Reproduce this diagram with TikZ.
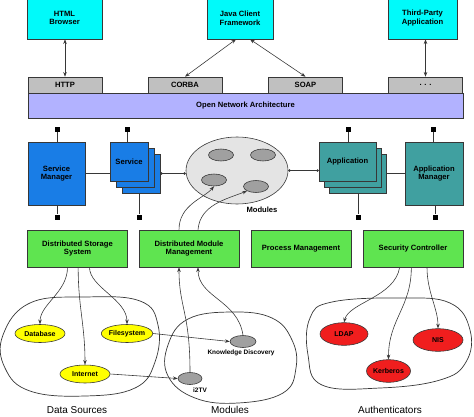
\documentclass[tikz,border=0pt]{standalone}
\usepackage{fontspec}
\setmainfont{Liberation Sans}
\usetikzlibrary{shapes.geometric, arrows.meta, positioning}

\definecolor{clientcyan}{RGB}{0,250,250}
\definecolor{tabgray}{RGB}{192,192,192}
\definecolor{onalav}{RGB}{178,178,255}
\definecolor{serviceblue}{RGB}{25,125,230}
\definecolor{appteal}{RGB}{64,160,160}
\definecolor{ctrlgreen}{RGB}{95,228,80}
\definecolor{srcyellow}{RGB}{255,255,0}
\definecolor{authred}{RGB}{240,30,30}
\definecolor{modgray}{RGB}{160,160,160}
\definecolor{cloudgray}{RGB}{228,228,228}
\definecolor{linegray}{RGB}{55,55,55}

\tikzset{
  box/.style={draw=linegray, align=center, inner sep=1pt, font=\fontsize{6.5}{7.5}\selectfont\bfseries},
  client/.style={box, fill=clientcyan, minimum height=12.6mm},
  tab/.style={box, fill=tabgray, minimum width=22.2mm, minimum height=4.8mm},
  svcbox/.style={box, fill=serviceblue},
  appbox/.style={box, fill=appteal},
  ctrl/.style={box, fill=ctrlgreen, minimum width=30mm, minimum height=11.1mm},
  srcov/.style={ellipse, draw=linegray, fill=srcyellow, inner sep=0pt, minimum width=15mm, minimum height=5.4mm, font=\fontsize{6}{7}\selectfont\bfseries},
  authov/.style={srcov, fill=authred, minimum width=14.4mm, minimum height=6.8mm},
  modov/.style={ellipse, draw=linegray, fill=modgray, inner sep=0pt, minimum width=7.5mm, minimum height=3.6mm},
  pinsq/.style={fill=black, inner sep=0pt, minimum size=1.5mm},
  link/.style={draw=linegray},
  plug/.style={linegray, {Circle[length=2pt]}-{Circle[length=2pt]}},
  both/.style={linegray, {Stealth[length=4pt]}-{Stealth[length=4pt]}},
  feed/.style={linegray, -{Stealth[length=4pt]}},
  blob/.style={draw=linegray, line width=0.6pt},
  grouplbl/.style={font=\fontsize{8.5}{9}\selectfont},
  smalllbl/.style={font=\fontsize{5.5}{6}\selectfont\bfseries}
}

\begin{document}
\begin{tikzpicture}[x=0.3mm, y=-0.3mm, line width=0.5pt]
  \useasboundingbox (0,0) rectangle (474,416);

  % Clients
  \node[client, minimum width=22.5mm] (html) at (64.5,18) {HTML\\Browser};
  \node[client, minimum width=19.8mm] (java) at (240,18) {Java Client\\Framework};
  \node[client, minimum width=20.7mm] (third) at (422.5,18) {Third-Party\\Application};

  % Protocols and the bar
  \node[box, fill=onalav, minimum width=130.5mm, minimum height=7.5mm] (ona) at (245.5,105.5) {Open Network Architecture};
  \node[tab] (http) at (65,85) {HTTP};
  \node[tab] (corba) at (185,85) {CORBA};
  \node[tab] (soap) at (305.5,85) {SOAP};
  \node[tab] (dots) at (425.5,85) {. . .};

  \draw[both] (html.south -| http.north) -- (http.north);
  \draw[both] ([xshift=-1.2mm]java.south) -- (corba.north);
  \draw[both] ([xshift=3mm]java.south) -- (soap.north);
  \draw[both] (dots.north |- third.south) -- (dots.north);

  % Service side
  \node[svcbox, minimum width=17.1mm, minimum height=18.9mm] (sm) at (56.5,173.5) {Service\\Manager};
  \node[svcbox, minimum width=11.4mm, minimum height=11.7mm] (svc3) at (141,173.5) {};
  \node[svcbox, minimum width=11.4mm, minimum height=11.7mm] (svc2) at (135,167.5) {};
  \node[svcbox, minimum width=11.4mm, minimum height=11.7mm] (svc1) at (129,161.5) {Service};

  % Application side
  \node[appbox, minimum width=17.1mm, minimum height=11.7mm] (app3) at (357.5,173.5) {};
  \node[appbox, minimum width=17.1mm, minimum height=11.7mm] (app2) at (352.5,167.5) {};
  \node[appbox, minimum width=17.1mm, minimum height=11.7mm] (app1) at (347.5,161.5) {Application};
  \node[appbox, minimum width=17.4mm, minimum height=18.9mm] (mgr) at (434,173.5) {Application\\Manager};

  % Modules
  \node[ellipse, draw=linegray, fill=cloudgray, minimum width=30.6mm, minimum height=20.1mm] (modules) at (237,170.5) {};
  \node[modov] (m1) at (221,155) {};
  \node[modov] (m2) at (263,155) {};
  \node[modov] (m3) at (214,180) {};
  \node[modov] (m4) at (256,186.5) {};
  \node[smalllbl, font=\fontsize{6.5}{7}\selectfont\bfseries] (modlbl) at (262,210) {Modules};

  \draw[link] (sm.east) -- (sm.east -| svc1.west);
  \draw[plug] (svc3.east) -- (svc3.east -| modules.west);
  \draw[plug] (modules.east) -- (modules.east -| app1.west);
  \draw[link] (app3.east) -- (app3.east -| mgr.west);

  % Pins
  \foreach \px/\py/\bx [count=\i] in {57/129/sm.north, 127/129/svc1.north, 348/129/app1.north, 433/129/mgr.north,
                                      57/217/sm.south, 139/217/svc3.south, 358/217/app3.south, 435/217/mgr.south} {
    \node[pinsq] (pin\i) at (\px,\py) {};
    \draw[link] (pin\i) -- (pin\i |- \bx);
  }

  % Controllers
  \node[ctrl] (store) at (77.5,248.5) {Distributed Storage\\System};
  \node[ctrl] (dmm) at (189,248.5) {Distributed Module\\Management};
  \node[ctrl] (proc) at (301,248.5) {Process Management};
  \node[ctrl] (sec) at (413,248.5) {Security Controller};

  % Group outlines
  \draw[blob] plot[smooth cycle, tension=0.7] coordinates {(3,335) (30,303) (85,297) (140,301) (158,325) (155,362) (135,388) (85,396) (30,391) (5,368)};
  \draw[blob] plot[smooth cycle, tension=0.7] coordinates {(168,345) (188,319) (232,312) (272,318) (292,340) (296,368) (283,393) (238,403) (195,398) (168,376)};
  \draw[blob] plot[smooth cycle, tension=0.7] coordinates {(310,318) (332,302) (400,298) (450,303) (470,330) (466,362) (440,380) (380,388) (322,385) (308,355)};

  % Data sources
  \node[srcov] (db) at (40,333.5) {Database};
  \node[srcov] (fs) at (127,333.5) {Filesystem};
  \node[srcov] (inet) at (85,374) {Internet};

  % Module instances
  \node[modov, minimum width=7.8mm] (kd) at (243,341.5) {};
  \node[smalllbl] (kdlbl) at (241,353) {Knowledge Discovery};
  \node[modov, minimum width=7.2mm] (i2tv) at (190,378.5) {};
  \node[smalllbl] (i2tvlbl) at (200,390) {i2TV};

  % Authenticators
  \node[authov] (ldap) at (344,334) {LDAP};
  \node[authov, minimum width=15mm] (nis) at (438,340) {NIS};
  \node[authov, minimum width=13.2mm] (kerb) at (388.5,371) {Kerberos};

  % Group labels
  \node[grouplbl] (dslbl) at (77,410) {Data Sources};
  \node[grouplbl] (mdlbl) at (230,410) {Modules};
  \node[grouplbl] (aulbl) at (390,410) {Authenticators};

  % Storage arrows
  \draw[feed] ([xshift=-3mm]store.south) .. controls +(0,25) and +(0,-20) .. (db.north);
  \draw[feed] ([xshift=0.2mm]store.south) .. controls +(0,40) and +(0,-40) .. (inet.north);
  \draw[feed] ([xshift=3.6mm]store.south) .. controls +(0,20) and +(0,-25) .. (fs.north);
  \draw[feed] (fs.east) -- (kd.west);
  \draw[feed] (inet.east) -- (i2tv.west);

  % Module arrows
  \draw[feed] (i2tv.north) .. controls +(0,-60) and +(0,40) .. ([xshift=-3mm]dmm.south);
  \draw[feed] (kd.north) .. controls +(-5,-35) and +(0,30) .. ([xshift=2.7mm]dmm.south);
  \draw[feed] ([xshift=-3mm]dmm.north) .. controls +(0,-25) and +(-10,12) .. (m3.south);
  \draw[feed] ([xshift=2.7mm]dmm.north) .. controls +(2,-25) and +(-20,8) .. (m4.south west);

  % Security arrows
  \draw[feed] ([xshift=-4mm]sec.south) .. controls +(-5,30) and +(5,-20) .. (ldap.north);
  \draw[feed] ([xshift=-0.5mm]sec.south) .. controls +(0,40) and +(0,-40) .. (kerb.north);
  \draw[feed] ([xshift=4.2mm]sec.south) .. controls +(0,25) and +(0,-20) .. (nis.north);
\end{tikzpicture}
\end{document}
